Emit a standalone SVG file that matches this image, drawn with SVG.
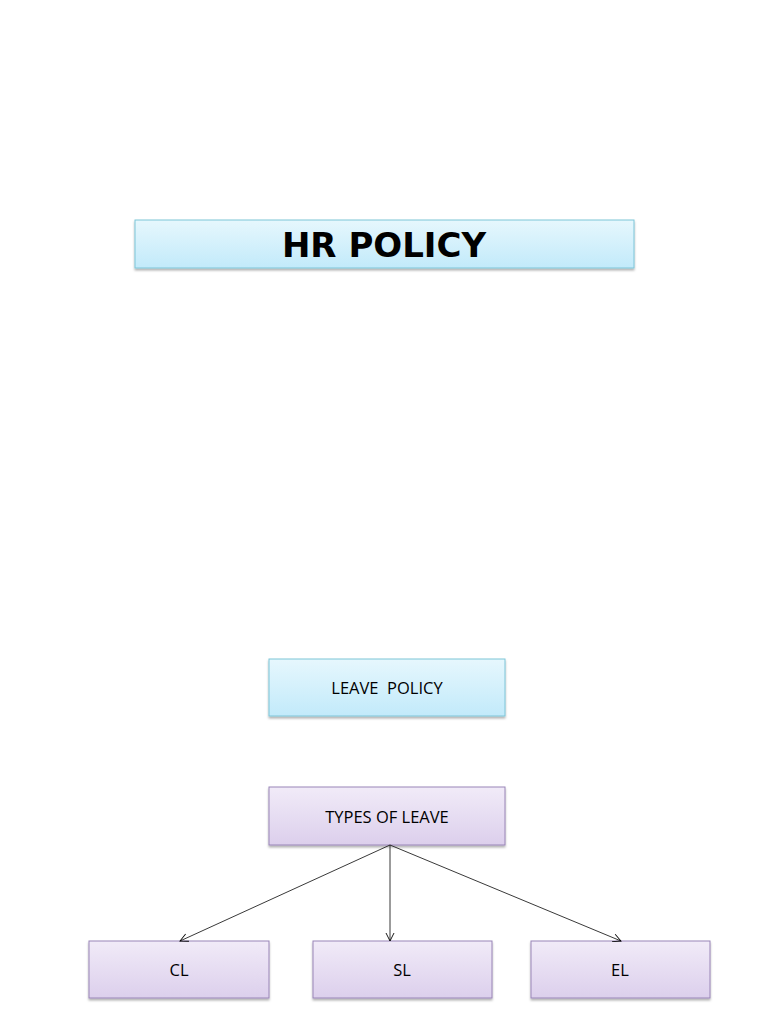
<svg xmlns="http://www.w3.org/2000/svg" width="768" height="1024" viewBox="0 0 768 1024">
<defs>
<linearGradient id="gBlue" x1="0" y1="0" x2="0" y2="1"><stop offset="0" stop-color="#e6f7fd"/><stop offset="1" stop-color="#c2eafa"/></linearGradient>
<linearGradient id="gPurple" x1="0" y1="0" x2="0" y2="1"><stop offset="0" stop-color="#f1ebf8"/><stop offset="1" stop-color="#dccfec"/></linearGradient>
<filter id="sh" x="-10%" y="-10%" width="120%" height="140%"><feDropShadow dx="0" dy="2" stdDeviation="1.2" flood-color="#000" flood-opacity="0.3"/></filter>
<marker id="arr" markerWidth="10" markerHeight="10" refX="9" refY="5" orient="auto" markerUnits="userSpaceOnUse"><path d="M1,1 L9,5 L1,9" fill="none" stroke="#000" stroke-width="0.9"/></marker>
<style>
.blue{fill:url(#gBlue);stroke:#7cc5d8;stroke-width:1;filter:url(#sh)}
.purple{fill:url(#gPurple);stroke:#9985b7;stroke-width:1;filter:url(#sh)}
.lbl{font-family:"Open Sans","Liberation Sans",sans-serif;font-size:16.5px;fill:#000;text-anchor:middle}
.conn{stroke:#222;stroke-width:0.9;fill:none;marker-end:url(#arr)}
</style>
</defs>
<rect width="768" height="1024" fill="#fff"/>
<g id="hr-policy"><rect class="blue" x="135" y="220" width="499" height="48"/><text x="384" y="257" font-family="DejaVu Sans" font-weight="bold" font-size="34" text-anchor="middle" fill="#000">HR POLICY</text></g>
<g id="leave-policy"><rect class="blue" x="269" y="659" width="236" height="57"/><text class="lbl" x="387" y="694" xml:space="preserve">LEAVE  POLICY</text></g>
<g id="types-of-leave"><rect class="purple" x="269" y="787" width="236" height="58"/><text class="lbl" x="387" y="823">TYPES OF LEAVE</text></g>
<g id="cl"><rect class="purple" x="89" y="941" width="180" height="57"/><text class="lbl" x="179" y="976">CL</text></g>
<g id="sl"><rect class="purple" x="313" y="941" width="179" height="57"/><text class="lbl" x="402" y="976">SL</text></g>
<g id="el"><rect class="purple" x="531" y="941" width="179" height="57"/><text class="lbl" x="620" y="976">EL</text></g>
<g id="connectors">
<line class="conn" x1="390" y1="845" x2="180" y2="941"/>
<line class="conn" x1="390" y1="845" x2="390" y2="941"/>
<line class="conn" x1="390" y1="845" x2="621" y2="941"/>
</g>
</svg>
